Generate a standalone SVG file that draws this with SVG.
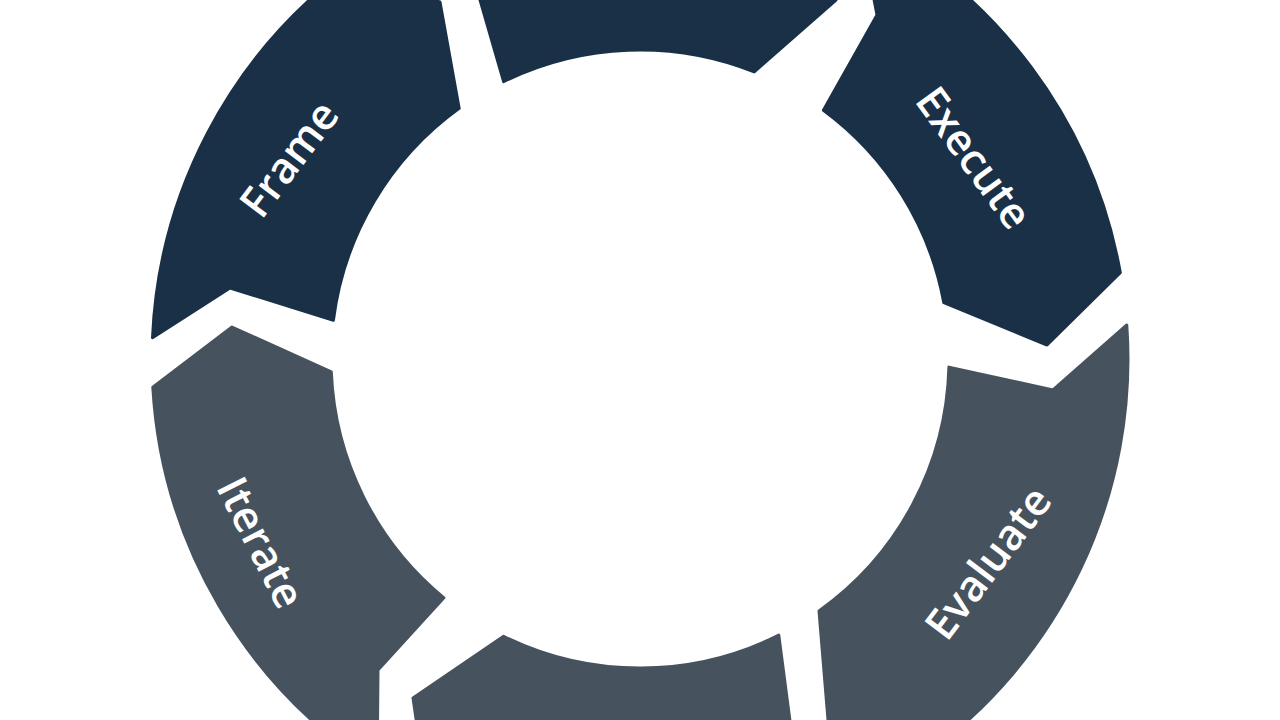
<svg xmlns="http://www.w3.org/2000/svg" width="1280" height="720" viewBox="0 0 1280 720">
<style>
.dark{fill:#1a3047;stroke:#1a3047;stroke-width:3;stroke-linejoin:round}
.grey{fill:#46525d;stroke:#46525d;stroke-width:3;stroke-linejoin:round}
.lbl{font-family:"Open Sans","Liberation Sans",sans-serif;font-weight:600;font-size:43px;fill:#ffffff;text-anchor:middle;dominant-baseline:central}
</style>
<rect width="1280" height="720" fill="#ffffff"/>
<g id="connectors"></g>
<g id="node-frame">
<path class="dark" d="M152.5,337.7 A488,488 0 0 1 344.3,-29.2 L440,2 L459.2,108.4 A309,309 0 0 0 333.4,320.3 L230,288 Z"/>
<text class="lbl" x="288" y="158" transform="rotate(-53 288 158)">Frame</text>
</g>
<g id="node-top">
<path class="dark" d="M388.6,-59.3 A488,488 0 0 1 811.7,-97.8 L836,0 L754.2,71.9 A309,309 0 0 0 503.6,81.7 L475.4,-16 Z"/>
</g>
<g id="node-execute">
<path class="dark" d="M859.3,-77 A488,488 0 0 1 1120.3,272.6 L1047,345 L943.8,302.7 A309,309 0 0 0 823.4,110.3 L877,15 Z"/>
<text class="lbl" x="975" y="157" transform="rotate(54 975 157)">Execute</text>
</g>
<g id="node-evaluate">
<path class="grey" d="M1126.8,325 A488,488 0 0 1 922,757.3 L828.3,723.7 L819,610.9 A309,309 0 0 0 948.9,367.1 L1053,390 Z"/>
<text class="lbl" x="987" y="562" transform="rotate(-53 987 562)">Evaluate</text>
</g>
<g id="node-bottom">
<path class="grey" d="M878.8,784.6 A488,488 0 0 1 427.6,798.4 L413,698 L503.6,636.3 A309,309 0 0 0 778.8,635.1 L792.4,739.3 Z"/>
</g>
<g id="node-iterate">
<path class="grey" d="M377.1,770.1 A488,488 0 0 1 152.8,387.1 L232,327 L331.3,371.9 A309,309 0 0 0 443.9,597.8 L378,670 Z"/>
<text class="lbl" x="262" y="542" transform="rotate(63 262 542)">Iterate</text>
</g>
</svg>
